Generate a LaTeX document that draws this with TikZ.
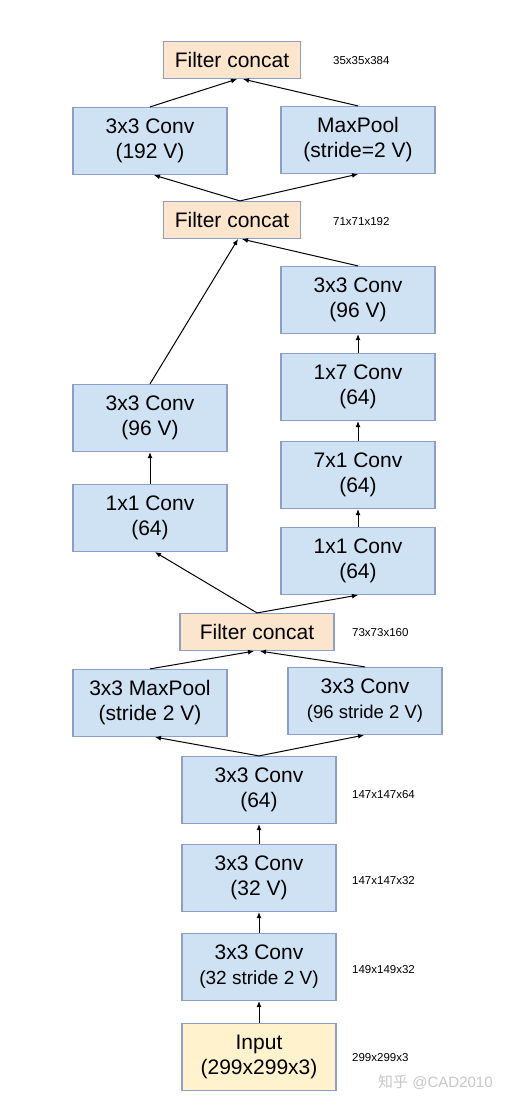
\documentclass[tikz,border=0pt]{standalone}
\usepackage{fontspec}
\setmainfont{Liberation Sans}
\newfontfamily\cjkfont{Noto Sans CJK SC}
\definecolor{convblue}{HTML}{CFE2F3}
\definecolor{catorange}{HTML}{FCE5CD}
\definecolor{inyellow}{HTML}{FFF2CC}
\definecolor{edgeblue}{HTML}{8E9EC8}
\usetikzlibrary{arrows.meta, positioning}

\begin{document}
\begin{tikzpicture}[
  x=1pt, y=-1pt,
  box/.style={draw=edgeblue, line width=1.2pt, minimum width=154pt, minimum height=67pt, inner sep=0pt, align=center, font=\fontsize{21}{25}\selectfont},
  conv/.style={box, fill=convblue},
  cat/.style={box, fill=catorange, minimum width=137pt, minimum height=37pt},
  dim/.style={anchor=west, inner sep=0pt, font=\fontsize{11.5}{13}\selectfont},
  arrow/.style={-{Latex[length=6pt, width=5pt]}, line width=1pt}
]
  \useasboundingbox[fill=white] (0,0) rectangle (504,1104);

  % Stem
  \node[box, fill=inyellow] (input) at (259, 1057) {Input\\(299x299x3)};
  \node[conv] (c32s) at (259, 967) {3x3 Conv\\{\fontsize{19}{25}\selectfont(32 stride 2 V)}};
  \node[conv] (c32) at (259, 878) {3x3 Conv\\(32 V)};
  \node[conv] (c64) at (259, 790) {3x3 Conv\\(64)};

  % First split
  \node[conv] (pool1) at (150, 703) {3x3 MaxPool\\(stride 2 V)};
  \node[conv] (c96s) at (365, 701) {3x3 Conv\\{\fontsize{18.5}{25}\selectfont(96 stride 2 V)}};
  \node[cat, minimum width=154pt] (cat1) at (257, 632) {Filter concat};

  % Second split
  \node[conv] (l1x1) at (150, 518) {1x1 Conv\\(64)};
  \node[conv] (l3x3) at (150, 418) {3x3 Conv\\(96 V)};
  \node[conv] (r1x1) at (358, 561) {1x1 Conv\\(64)};
  \node[conv] (r7x1) at (358, 475) {7x1 Conv\\(64)};
  \node[conv] (r1x7) at (358, 387) {1x7 Conv\\(64)};
  \node[conv] (r3x3) at (358, 300) {3x3 Conv\\(96 V)};
  \node[cat] (cat2) at (232, 220) {Filter concat};

  % Third split
  \node[conv] (c192) at (150, 141) {3x3 Conv\\(192 V)};
  \node[conv] (pool2) at (358, 140) {MaxPool\\(stride=2 V)};
  \node[cat] (cat3) at (232, 60) {Filter concat};

  % Output sizes
  \node[dim] (d1) at (352, 1058) {299x299x3};
  \node[dim] (d2) at (352, 970) {149x149x32};
  \node[dim] (d3) at (352, 881) {147x147x32};
  \node[dim] (d4) at (352, 795) {147x147x64};
  \node[dim] (d5) at (352, 633) {73x73x160};
  \node[dim] (d6) at (333, 222) {71x71x192};
  \node[dim] (d7) at (333, 61) {35x35x384};

  \node[anchor=west, inner sep=0pt, text=black!22, font=\fontsize{15}{17}\selectfont] (mark) at (378, 1082) {{\cjkfont 知乎} @CAD2010};

  % Connectors
  \draw[arrow] (input) -- (c32s);
  \draw[arrow] (c32s) -- (c32);
  \draw[arrow] (c32) -- (c64);
  \draw[arrow] (c64.north) -- ([xshift=5pt]pool1.south);
  \draw[arrow] (c64.north) -- ([xshift=-1pt]c96s.south);
  \draw[arrow] (pool1.north) -- ([xshift=-3pt]cat1.south);
  \draw[arrow] (c96s.north) -- ([xshift=3pt]cat1.south);
  \draw[arrow] (cat1.north) -- ([xshift=5pt]l1x1.south);
  \draw[arrow] (cat1.north) -- (r1x1.south);
  \draw[arrow] (l1x1) -- (l3x3);
  \draw[arrow] (r1x1) -- (r7x1);
  \draw[arrow] (r7x1) -- (r1x7);
  \draw[arrow] (r1x7) -- (r3x3);
  \draw[arrow] (l3x3.north) -- ([xshift=6pt]cat2.south);
  \draw[arrow] (r3x3.north) -- ([xshift=10pt]cat2.south);
  \draw[arrow] ([xshift=8pt]cat2.north) -- ([xshift=4pt]c192.south);
  \draw[arrow] ([xshift=8pt]cat2.north) -- (pool2.south);
  \draw[arrow] (c192.north) -- ([xshift=5pt]cat3.south);
  \draw[arrow] (pool2.north) -- ([xshift=11pt]cat3.south);
\end{tikzpicture}
\end{document}
